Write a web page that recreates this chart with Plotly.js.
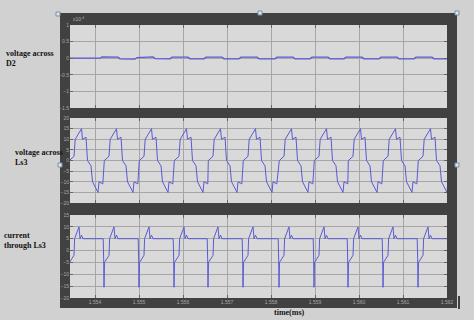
<!DOCTYPE html>
<html>
<head>
<meta charset="utf-8">
<script src="https://cdn.plot.ly/plotly-3.0.1.min.js"></script>
<style>html,body{margin:0;padding:0;background:#d0d0d0;}#chart{width:474px;height:320px;}</style>
</head>
<body>
<div id="chart"></div>
<script>
// ---- data (time axis in chart units; tick labels below) ----
const timeTickVals = [25, 69, 113, 157, 201, 245, 289, 333, 377];
const timeTickText = ["1.554", "1.555", "1.556", "1.557", "1.558", "1.559", "1.560", "1.561", "1.562"];

// voltage across D2 (x10^-4)
const tD2 = [0, 30, 32, 48, 50, 65, 67, 83, 85, 100, 102, 118, 120, 134, 136, 152, 154, 169, 171, 187, 189, 205, 207, 223, 225, 240, 242, 258, 260, 274, 276, 292, 294, 309, 311, 327, 329, 344, 346, 362, 364, 377];
const vD2 = [0, 0, 0.04, 0.03, -0.02, -0.03, 0.02, 0.04, -0.01, -0.02, 0.03, 0.03, -0.02, -0.02, 0.03, 0.03, -0.02, -0.02, 0.03, 0.03, -0.02, -0.02, 0.03, 0.03, -0.02, -0.02, 0.03, 0.03, -0.02, -0.02, 0.03, 0.03, -0.02, -0.02, 0.03, 0.03, -0.02, -0.02, 0.03, 0.03, -0.02, -0.02];

// voltage across Ls3
const tLs3V = [-1.5, -0.7, 4, 5.2, 11.5, 12.5, 16, 17.5, 21, 22.5, 28, 29, 32.8,
  34.3, 39, 40.2, 46.5, 47.5, 51, 52.5, 56, 57.5, 63, 64, 67.8,
  69.3, 74, 75.2, 81.5, 82.5, 86, 87.5, 91, 92.5, 98, 99, 102.8,
  104.3, 109, 110.2, 116.5, 117.5, 121, 122.5, 126, 127.5, 133, 134, 137.8,
  138.3, 143, 144.2, 150.5, 151.5, 155, 156.5, 160, 161.5, 167, 168, 171.8,
  173.3, 178, 179.2, 185.5, 186.5, 190, 191.5, 195, 196.5, 202, 203, 206.8,
  209.3, 214, 215.2, 221.5, 222.5, 226, 227.5, 231, 232.5, 238, 239, 242.8,
  244.3, 249, 250.2, 256.5, 257.5, 261, 262.5, 266, 267.5, 273, 274, 277.8,
  278.3, 283, 284.2, 290.5, 291.5, 295, 296.5, 300, 301.5, 307, 308, 311.8,
  313.3, 318, 319.2, 325.5, 326.5, 330, 331.5, 335, 336.5, 342, 343, 346.8,
  348.3, 353, 354.2, 360.5, 361.5, 365, 366.5, 370, 371.5, 377, 378, 381.8];
const vLs3 = [-11, 0, 2, 10, 15, 10, 11, 0, -2.5, -10, -15, -10, -11,
  0, 2, 10, 15, 10, 11, 0, -2.5, -10, -15, -10, -11,
  0, 2, 10, 15, 10, 11, 0, -2.5, -10, -15, -10, -11,
  0, 2, 10, 15, 10, 11, 0, -2.5, -10, -15, -10, -11,
  0, 2, 10, 15, 10, 11, 0, -2.5, -10, -15, -10, -11,
  0, 2, 10, 15, 10, 11, 0, -2.5, -10, -15, -10, -11,
  0, 2, 10, 15, 10, 11, 0, -2.5, -10, -15, -10, -11,
  0, 2, 10, 15, 10, 11, 0, -2.5, -10, -15, -10, -11,
  0, 2, 10, 15, 10, 11, 0, -2.5, -10, -15, -10, -11,
  0, 2, 10, 15, 10, 11, 0, -2.5, -10, -15, -10, -11,
  0, 2, 10, 15, 10, 11, 0, -2.5, -10, -15, -10, -11];

// current through Ls3
const tLs3I = [-1.8, -1.3, -1, -0.5, 4, 4.6, 9, 10, 11.5, 13,
  33.2, 33.7, 34, 34.5, 39, 39.6, 44, 45, 46.5, 48,
  68.2, 68.7, 69, 69.5, 74, 74.6, 79, 80, 81.5, 83,
  103.2, 103.7, 104, 104.5, 109, 109.6, 114, 115, 116.5, 118,
  137.2, 137.7, 138, 138.5, 143, 143.6, 148, 149, 150.5, 152,
  172.2, 172.7, 173, 173.5, 178, 178.6, 183, 184, 185.5, 187,
  208.2, 208.7, 209, 209.5, 214, 214.6, 219, 220, 221.5, 223,
  243.2, 243.7, 244, 244.5, 249, 249.6, 254, 255, 256.5, 258,
  277.2, 277.7, 278, 278.5, 283, 283.6, 288, 289, 290.5, 292,
  312.2, 312.7, 313, 313.5, 318, 318.6, 323, 324, 325.5, 327,
  347.2, 347.7, 348, 348.5, 353, 353.6, 358, 359, 360.5, 362,
  380];
const iLs3 = [5, -4, -15.5, -5, -2, 5, 10, 5, 6.5, 5,
  5, -4, -15.5, -5, -2, 5, 10, 5, 6.5, 5,
  5, -4, -15.5, -5, -2, 5, 10, 5, 6.5, 5,
  5, -4, -15.5, -5, -2, 5, 10, 5, 6.5, 5,
  5, -4, -15.5, -5, -2, 5, 10, 5, 6.5, 5,
  5, -4, -15.5, -5, -2, 5, 10, 5, 6.5, 5,
  5, -4, -15.5, -5, -2, 5, 10, 5, 6.5, 5,
  5, -4, -15.5, -5, -2, 5, 10, 5, 6.5, 5,
  5, -4, -15.5, -5, -2, 5, 10, 5, 6.5, 5,
  5, -4, -15.5, -5, -2, 5, 10, 5, 6.5, 5,
  5, -4, -15.5, -5, -2, 5, 10, 5, 6.5, 5,
  5];

const yTicks1 = [1, 0.5, 0, -0.5, -1, -1.5];
const yTicks2 = [20, 15, 10, 5, 0, -5, -10, -15, -20];
const yTicks3 = [15, 10, 5, 0, -5, -10, -15, -20];

const labels = {
  d2: "<b>voltage across<br>D2</b>",
  v3: "<b>voltage across<br>Ls3</b>",
  i3: "<b>current<br>through Ls3</b>",
  xt: "<b>time(ms)</b>"
};

// ---- styles ----
const lineCol = '#5a5ad4';
const tickFont = {family: 'Liberation Sans, Arial, sans-serif', size: 5, color: '#a8a8a8'};
function xax(anchor, showLabels) {
  return {anchor: anchor, range: [0, 377], tickvals: timeTickVals, ticktext: timeTickText,
    showticklabels: showLabels, ticks: 'inside', ticklen: 3, tickcolor: '#666', mirror: 'ticks',
    showgrid: true, gridcolor: '#a6a6a6', gridwidth: 1, zeroline: false, showline: false,
    tickfont: tickFont};
}
function yax(domain, range, vals, anchor) {
  return {domain: domain, range: range, tickvals: vals, anchor: anchor,
    ticks: 'inside', ticklen: 3, tickcolor: '#666', mirror: 'ticks',
    showgrid: true, gridcolor: '#a6a6a6', gridwidth: 1, zeroline: false, showline: false,
    tickfont: tickFont};
}

const traces = [
  {x: tD2, y: vD2, xaxis: 'x', yaxis: 'y', mode: 'lines', line: {color: lineCol, width: 1.3}, hoverinfo: 'skip'},
  {x: tLs3V, y: vLs3, xaxis: 'x2', yaxis: 'y2', mode: 'lines', line: {color: lineCol, width: 1}, hoverinfo: 'skip'},
  {x: tLs3I, y: iLs3, xaxis: 'x3', yaxis: 'y3', mode: 'lines', line: {color: lineCol, width: 1}, hoverinfo: 'skip'}
];

const panelCol = '#d9d9d9';
const frameCol = '#414141';
function handle(px, py) {
  const fx = (px - 70) / 377, fy = (298 - py) / 273;
  return {type: 'rect', xref: 'paper', yref: 'paper', x0: fx - 2/377, x1: fx + 2/377, y0: fy - 2/273, y1: fy + 2/273,
    fillcolor: '#dfe6ee', line: {color: '#7d8fa5', width: 1}, layer: 'above'};
}
const shapes = [
  {type: 'rect', xref: 'paper', yref: 'paper', x0: -10/377, x1: 387/377, y0: -10/273, y1: 285/273,
    fillcolor: frameCol, line: {width: 0}, layer: 'below'},
  {type: 'rect', xref: 'paper', yref: 'paper', x0: 0, x1: 1, y0: 0.696, y1: 1, fillcolor: panelCol, line: {width: 0}, layer: 'below'},
  {type: 'rect', xref: 'paper', yref: 'paper', x0: 0, x1: 1, y0: 0.348, y1: 0.659, fillcolor: panelCol, line: {width: 0}, layer: 'below'},
  {type: 'rect', xref: 'paper', yref: 'paper', x0: 0, x1: 1, y0: 0, y1: 0.304, fillcolor: panelCol, line: {width: 0}, layer: 'below'},
  {type: 'line', xref: 'paper', yref: 'paper', x0: 389/377, x1: 389/377, y0: -11/273, y1: 2/273, line: {color: '#111', width: 1.5}},
  handle(58, 14), handle(260, 13), handle(457, 13), handle(60, 165), handle(457, 165)
];

const labelFont = {family: 'Liberation Serif, Times New Roman, serif', size: 8, color: '#111'};
const annotations = [
  {text: labels.d2, xref: 'paper', yref: 'paper', x: -66/377, y: 0.879, xanchor: 'left', yanchor: 'middle', align: 'left', showarrow: false, font: labelFont},
  {text: labels.v3, xref: 'paper', yref: 'paper', x: -57/377, y: 0.516, xanchor: 'left', yanchor: 'middle', align: 'left', showarrow: false, font: labelFont},
  {text: labels.i3, xref: 'paper', yref: 'paper', x: -68/377, y: 0.212, xanchor: 'left', yanchor: 'middle', align: 'left', showarrow: false, font: labelFont},
  {text: labels.xt, xref: 'paper', yref: 'paper', x: 219/377, y: -14/273, xanchor: 'center', yanchor: 'middle', showarrow: false, font: labelFont},
  {text: 'x10<sup>-4</sup>', xref: 'paper', yref: 'paper', x: 1/377, y: 279/273, xanchor: 'left', yanchor: 'middle', showarrow: false,
    font: {family: 'Liberation Sans, Arial, sans-serif', size: 5, color: '#b0b0b0'}}
];

const layout = {
  width: 474, height: 320, autosize: false,
  margin: {l: 70, r: 27, t: 25, b: 22, pad: 0},
  paper_bgcolor: '#d1d1d1', plot_bgcolor: 'rgba(0,0,0,0)',
  showlegend: false,
  xaxis: xax('y', false), xaxis2: xax('y2', false), xaxis3: xax('y3', true),
  yaxis: yax([0.696, 1], [-1.5, 1], yTicks1, 'x'),
  yaxis2: yax([0.348, 0.659], [-20, 20], yTicks2, 'x2'),
  yaxis3: yax([0, 0.304], [-20, 15], yTicks3, 'x3'),
  shapes: shapes, annotations: annotations
};

Plotly.newPlot('chart', traces, layout, {staticPlot: true, displayModeBar: false});
</script>
</body>
</html>
